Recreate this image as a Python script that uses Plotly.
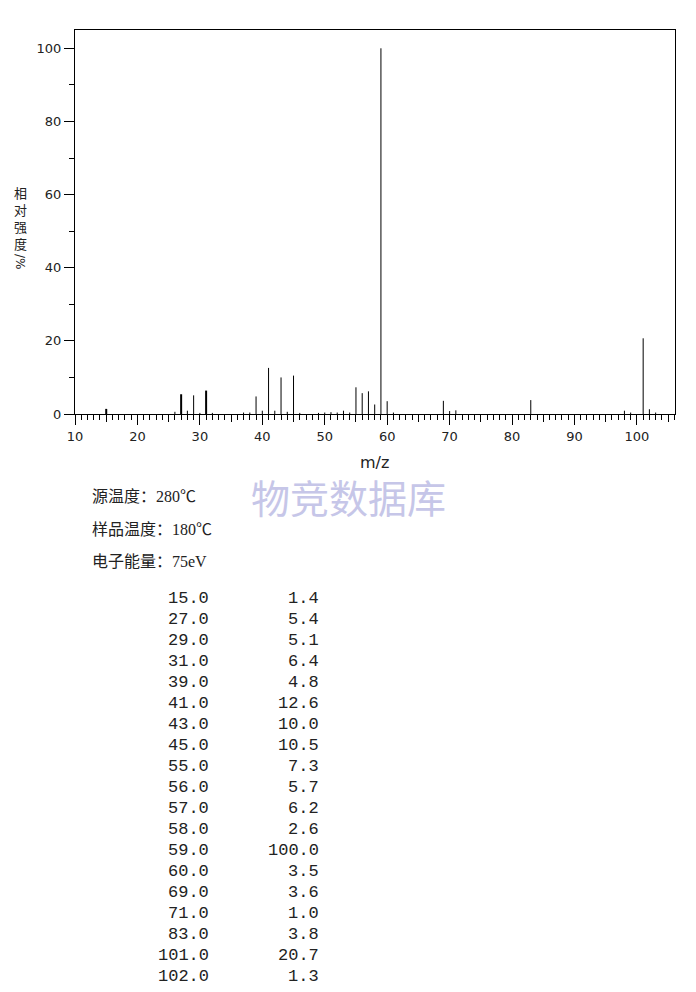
import plotly.graph_objects as go

# ---- data ----
table_mz = [15.0, 27.0, 29.0, 31.0, 39.0, 41.0, 43.0, 45.0, 55.0, 56.0,
            57.0, 58.0, 59.0, 60.0, 69.0, 71.0, 83.0, 101.0, 102.0]
table_int = [1.4, 5.4, 5.1, 6.4, 4.8, 12.6, 10.0, 10.5, 7.3, 5.7,
             6.2, 2.6, 100.0, 3.5, 3.6, 1.0, 3.8, 20.7, 1.3]
thick_mz = [15.0, 27.0, 31.0]
minor_mz = [26, 28, 30, 32, 37, 38, 40, 42, 44, 46, 49, 50, 51, 52, 53, 54, 61, 70, 98, 99, 103]
minor_int = [0.6, 0.9, 0.3, 0.3, 0.4, 0.4, 0.9, 0.9, 0.6, 0.3, 0.3, 0.4, 0.5, 0.4, 0.9, 0.4, 0.4, 0.8, 0.9, 0.4, 0.4]
info_lines = ["源温度：280℃", "样品温度：180℃", "电子能量：75eV"]
x_tick_vals = [10, 20, 30, 40, 50, 60, 70, 80, 90, 100]
y_tick_vals = [0, 20, 40, 60, 80, 100]

W, H = 696, 992
L, R, T, B = 75, 675, 30, 414


def px(x):
    return (x - L) / (R - L)


def py(y):
    return (B - y) / (B - T)


def stems(xs, ys):
    X, Y = [], []
    for x, y in zip(xs, ys):
        X += [x, x, None]
        Y += [0, y, None]
    return X, Y


fig = go.Figure()
thin_x = [m for m in table_mz if m not in thick_mz] + minor_mz
thin_y = [v for m, v in zip(table_mz, table_int) if m not in thick_mz] + minor_int
X, Y = stems(thin_x, thin_y)
fig.add_trace(go.Scatter(x=X, y=Y, mode="lines", line=dict(color="black", width=1),
                         hoverinfo="skip", showlegend=False))
tk_y = [v for m, v in zip(table_mz, table_int) if m in thick_mz]
X, Y = stems(thick_mz, tk_y)
fig.add_trace(go.Scatter(x=X, y=Y, mode="lines", line=dict(color="black", width=2),
                         hoverinfo="skip", showlegend=False))
# invisible trace for the secondary (mid-tick) axis
fig.add_trace(go.Scatter(x=[10], y=[0], xaxis="x2", mode="markers",
                         marker=dict(opacity=0), hoverinfo="skip", showlegend=False))

tickfont = dict(family="DejaVu Sans", size=13, color="#222")
fig.update_layout(
    width=W, height=H,
    margin=dict(l=L, r=W - R, t=T, b=H - B),
    paper_bgcolor="white", plot_bgcolor="white",
    xaxis=dict(range=[10, 106.1], tickvals=x_tick_vals, ticks="outside", ticklen=10,
               tickcolor="black", tickwidth=1, showline=True, linecolor="black",
               linewidth=1, mirror=True, showgrid=False, zeroline=False,
               tickfont=tickfont,
               minor=dict(dtick=1, tick0=10, ticks="outside", ticklen=5,
                          tickcolor="black", tickwidth=1, showgrid=False)),
    xaxis2=dict(range=[10, 106.1], overlaying="x", anchor="y", side="bottom",
                tickvals=[15, 25, 35, 45, 55, 65, 75, 85, 95, 105], ticks="outside",
                ticklen=7, tickcolor="black", tickwidth=1, showticklabels=False,
                showline=False, showgrid=False, zeroline=False),
    yaxis=dict(range=[0, 105], tickvals=y_tick_vals, ticks="outside", ticklen=10,
               tickcolor="black", tickwidth=1, showline=True, linecolor="black",
               linewidth=1, mirror=True, showgrid=False, zeroline=False,
               tickfont=tickfont,
               minor=dict(dtick=10, tick0=0, ticks="outside", ticklen=5,
                          tickcolor="black", tickwidth=1, showgrid=False)),
)

ann = []


def add(text, x, y, xanchor="center", size=15, family="DejaVu Sans", color="#222", **kw):
    ann.append(dict(text=text, x=px(x), y=py(y), xref="paper", yref="paper",
                    xanchor=xanchor, yanchor="middle", showarrow=False,
                    font=dict(family=family, size=size, color=color), **kw))


# axis titles
add("m/z", 374, 462, size=16)
add("相<br>对<br>强<br>度", 20, 218, family="Noto Sans CJK SC", size=13)
add("/%", 20, 261, size=12, textangle=90, borderpad=0)
# watermark
add("物竞数据库", 348, 496, family="Noto Sans CJK SC", size=39, color="rgb(198,198,232)")
# info lines
for line, yy in zip(info_lines, [496, 529, 561]):
    add(line, 90, yy, xanchor="left", family="Liberation Serif, Noto Sans CJK SC", size=16)
# peak table
for i, (m, v) in enumerate(zip(table_mz, table_int)):
    yy = 598 + 21 * i
    add(f"{m:.1f}", 211, yy, xanchor="right", family="Liberation Mono", size=17)
    add(f"{v:.1f}", 321, yy, xanchor="right", family="Liberation Mono", size=17)
fig.update_layout(annotations=ann)

fig.write_html("out.html", config={"displayModeBar": False},
               post_script="document.body.style.margin='0px';document.body.style.overflow='hidden';")
